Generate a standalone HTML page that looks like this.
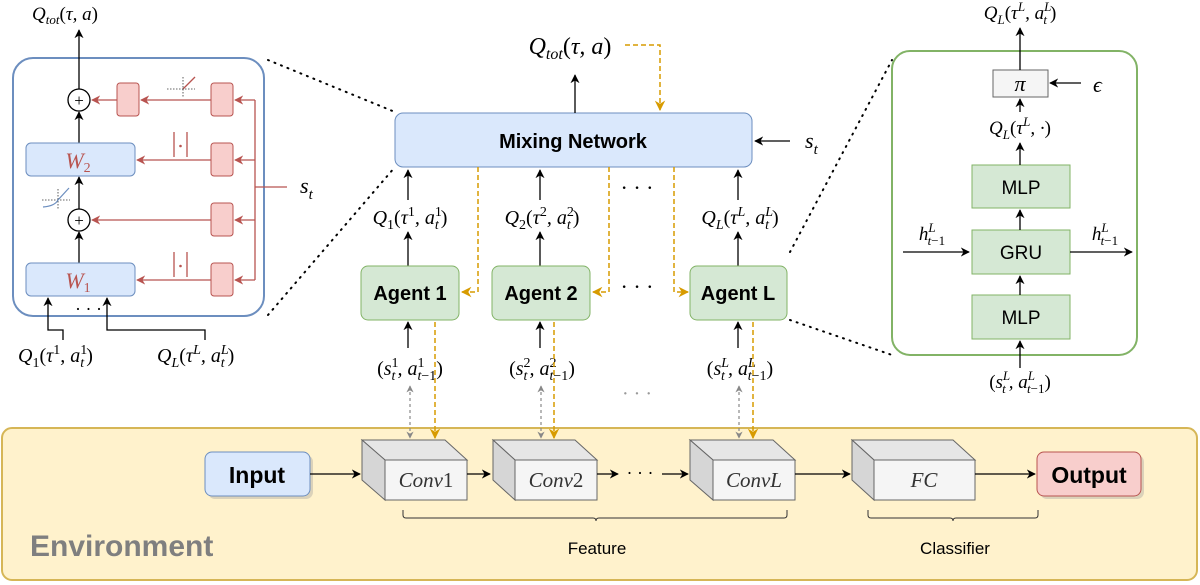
<!DOCTYPE html>
<html><head><meta charset="utf-8"><style>
html,body{margin:0;padding:0;background:#fff}
svg{display:block}
.m{font-family:"Liberation Serif",serif;font-style:italic}
.s{font-family:"Liberation Sans",sans-serif}
.u{font-style:normal}
</style></head><body>
<svg width="1200" height="585" viewBox="0 0 1200 585" xmlns="http://www.w3.org/2000/svg">
<defs>
<marker id="ab" viewBox="0 0 10 10" refX="9" refY="5" markerWidth="7" markerHeight="7" orient="auto-start-reverse"><path d="M0,0 L10,5 L0,10 L3,5z" fill="#000"/></marker>
<marker id="ar" viewBox="0 0 10 10" refX="9" refY="5" markerWidth="7" markerHeight="7" orient="auto-start-reverse"><path d="M0,0 L10,5 L0,10 L3,5z" fill="#b85450"/></marker>
<marker id="ao" viewBox="0 0 10 10" refX="9" refY="5" markerWidth="7" markerHeight="7" orient="auto-start-reverse"><path d="M0,0 L10,5 L0,10 L3,5z" fill="#d79b00"/></marker>
<marker id="ag" viewBox="0 0 10 10" refX="9" refY="5" markerWidth="6" markerHeight="6" orient="auto-start-reverse"><path d="M0,0 L10,5 L0,10 L3,5z" fill="#888"/></marker>
</defs>

<!-- Environment -->
<rect x="2" y="428" width="1195" height="152" rx="10" fill="#fff2cc" stroke="#d6b656" stroke-width="2"/>
<text x="30" y="556" class="s" font-size="30" font-weight="bold" fill="#7f7f7f">Environment</text>
<rect x="208" y="455" width="105" height="44" rx="7" fill="#999" opacity="0.35"/>
<rect x="205" y="452" width="105" height="44" rx="7" fill="#dae8fc" stroke="#6c8ebf"/>
<text x="257" y="483" class="s" font-size="23" font-weight="bold" text-anchor="middle">Input</text>
<rect x="1040" y="455" width="104" height="44" rx="7" fill="#999" opacity="0.35"/>
<rect x="1037" y="452" width="104" height="44" rx="7" fill="#f8cecc" stroke="#b85450"/>
<text x="1089" y="483" class="s" font-size="23" font-weight="bold" text-anchor="middle">Output</text>

<g stroke="#666" stroke-width="1">
<path d="M362,440 L445,440 L467,460 L385,460z" fill="#e6e6e6"/><path d="M362,440 L385,460 L385,500 L362,480z" fill="#d6d6d6"/><rect x="385" y="460" width="82" height="40" fill="#f5f5f5"/>
<path d="M493,440 L575,440 L597,460 L515,460z" fill="#e6e6e6"/><path d="M493,440 L515,460 L515,500 L493,480z" fill="#d6d6d6"/><rect x="515" y="460" width="82" height="40" fill="#f5f5f5"/>
<path d="M690,440 L773,440 L795,460 L713,460z" fill="#e6e6e6"/><path d="M690,440 L713,460 L713,500 L690,480z" fill="#d6d6d6"/><rect x="713" y="460" width="82" height="40" fill="#f5f5f5"/>
<path d="M852,440 L953,440 L975,460 L874,460z" fill="#e6e6e6"/><path d="M852,440 L874,460 L874,500 L852,480z" fill="#d6d6d6"/><rect x="874" y="460" width="101" height="40" fill="#f5f5f5"/>
</g>
<g class="m" font-size="21" text-anchor="middle" fill="#333">
<text x="426" y="487">Conv<tspan class="u">1</tspan></text><text x="556" y="487">Conv<tspan class="u">2</tspan></text><text x="754" y="487">ConvL</text><text x="924" y="487">FC</text>
</g>
<g stroke="#000" stroke-width="1.3" fill="none" marker-end="url(#ab)">
<path d="M310,474 H360"/><path d="M467,474 H490"/><path d="M597,474 H618"/><path d="M662,474 H688"/><path d="M795,474 H850"/><path d="M975,474 H1035"/>
</g>
<text x="640" y="479" font-size="18" text-anchor="middle">· · ·</text>
<path d="M403,510 v5 q0,3 3,3 h187 q3,0 3,3 q0,-3 3,-3 h185 q3,0 3,-3 v-5" fill="none" stroke="#333"/>
<path d="M868,510 v5 q0,3 3,3 h79 q3,0 3,3 q0,-3 3,-3 h79 q3,0 3,-3 v-5" fill="none" stroke="#333"/>
<text x="597" y="554" class="s" font-size="17" text-anchor="middle">Feature</text>
<text x="955" y="554" class="s" font-size="17" text-anchor="middle">Classifier</text>

<!-- Mixing network -->
<rect x="395" y="113" width="357" height="54" rx="8" fill="#dae8fc" stroke="#6c8ebf"/>
<text x="573" y="148" class="s" font-size="20" font-weight="bold" text-anchor="middle">Mixing Network</text>
<text x="570" y="54" class="m" font-size="24" text-anchor="middle">Q<tspan font-size="16" dy="5">tot</tspan><tspan class="u" dy="-5">(</tspan>τ, a<tspan class="u">)</tspan></text>
<g stroke="#000" stroke-width="1.3" marker-end="url(#ab)">
<path d="M575,113 V75"/><path d="M790,141 H755"/>
<path d="M408,200 V170"/><path d="M540,200 V170"/><path d="M738,200 V170"/>
<path d="M408,266 V232"/><path d="M540,266 V232"/><path d="M738,266 V232"/>
<path d="M408,348 V322"/><path d="M540,348 V322"/><path d="M738,348 V322"/>
</g>
<text x="805" y="148" class="m" font-size="22">s<tspan font-size="15" dy="6">t</tspan></text>
<g class="m" font-size="20" text-anchor="middle">
<text x="410" y="224">Q<tspan font-size="14" dy="5" class="u">1</tspan><tspan class="u" dy="-5">(</tspan>τ<tspan class="u" font-size="14" dy="-8">1</tspan><tspan dy="8">, a</tspan><tspan class="u" font-size="14" dy="-8">1</tspan><tspan font-size="14" dx="-7" dy="13">t</tspan><tspan class="u" dy="-5" dx="2">)</tspan></text>
<text x="542" y="224">Q<tspan font-size="14" dy="5" class="u">2</tspan><tspan class="u" dy="-5">(</tspan>τ<tspan class="u" font-size="14" dy="-8">2</tspan><tspan dy="8">, a</tspan><tspan class="u" font-size="14" dy="-8">2</tspan><tspan font-size="14" dx="-7" dy="13">t</tspan><tspan class="u" dy="-5" dx="2">)</tspan></text>
<text x="740" y="224">Q<tspan font-size="14" dy="5">L</tspan><tspan class="u" dy="-5">(</tspan>τ<tspan font-size="14" dy="-8">L</tspan><tspan dy="8">, a</tspan><tspan font-size="14" dy="-8">L</tspan><tspan font-size="14" dx="-8" dy="13">t</tspan><tspan class="u" dy="-5" dx="3">)</tspan></text>
<text x="410" y="375"><tspan class="u">(</tspan>s<tspan class="u" font-size="14" dy="-8">1</tspan><tspan font-size="14" dx="-7" dy="13">t</tspan><tspan dy="-5" dx="2">, a</tspan><tspan class="u" font-size="14" dy="-8">1</tspan><tspan font-size="14" dx="-7" dy="13">t<tspan class="u">−1</tspan></tspan><tspan class="u" dy="-5">)</tspan></text>
<text x="542" y="375"><tspan class="u">(</tspan>s<tspan class="u" font-size="14" dy="-8">2</tspan><tspan font-size="14" dx="-7" dy="13">t</tspan><tspan dy="-5" dx="2">, a</tspan><tspan class="u" font-size="14" dy="-8">2</tspan><tspan font-size="14" dx="-7" dy="13">t<tspan class="u">−1</tspan></tspan><tspan class="u" dy="-5">)</tspan></text>
<text x="740" y="375"><tspan class="u">(</tspan>s<tspan font-size="14" dy="-8">L</tspan><tspan font-size="14" dx="-8" dy="13">t</tspan><tspan dy="-5" dx="3">, a</tspan><tspan font-size="14" dy="-8">L</tspan><tspan font-size="14" dx="-8" dy="13">t<tspan class="u">−1</tspan></tspan><tspan class="u" dy="-5">)</tspan></text>
</g>
<text x="637" y="195" font-size="22" text-anchor="middle">· · ·</text>
<text x="637" y="294" font-size="22" text-anchor="middle">· · ·</text>
<text x="637" y="400" font-size="20" fill="#999" text-anchor="middle">· · ·</text>

<rect x="361" y="266" width="98" height="54" rx="7" fill="#d5e8d4" stroke="#82b366"/>
<rect x="492" y="266" width="98" height="54" rx="7" fill="#d5e8d4" stroke="#82b366"/>
<rect x="690" y="266" width="97" height="54" rx="7" fill="#d5e8d4" stroke="#82b366"/>
<g class="s" font-size="20" font-weight="bold" text-anchor="middle">
<text x="410" y="300">Agent 1</text><text x="541" y="300">Agent 2</text><text x="738" y="300">Agent L</text></g>

<g stroke="#d79b00" stroke-width="1.5" stroke-dasharray="5,3" fill="none" marker-end="url(#ao)">
<path d="M625,45 H660 V110"/>
<path d="M478,167 V292 H462"/><path d="M609,167 V292 H593"/><path d="M674,167 V292 H688"/>
<path d="M435,322 V438"/><path d="M554,322 V438"/><path d="M753,322 V438"/>
</g>
<g stroke="#888" stroke-width="1.2" stroke-dasharray="3,3" fill="none" marker-end="url(#ag)" marker-start="url(#ag)">
<path d="M410,386 V438"/><path d="M541,386 V438"/><path d="M739,386 V438"/>
</g>

<!-- dotted connectors -->
<g stroke="#000" stroke-width="2" stroke-dasharray="1,6" stroke-linecap="round">
<path d="M268,60 L395,112"/><path d="M268,315 L395,167"/>
<path d="M790,252 L892,60"/><path d="M790,320 L892,355"/>
</g>

<!-- Left panel -->
<rect x="13" y="58" width="251" height="258" rx="20" fill="#fff" stroke="#6c8ebf" stroke-width="2"/>
<text x="65" y="20" class="m" font-size="19" text-anchor="middle">Q<tspan font-size="13" dy="4">tot</tspan><tspan class="u" dy="-4">(</tspan>τ, a<tspan class="u">)</tspan></text>
<g stroke="#000" stroke-width="1.3" fill="none" marker-end="url(#ab)">
<path d="M79,89 V30"/><path d="M79,143 V112"/><path d="M79,209 V177"/><path d="M79,263 V232"/>
<path d="M63,340 V330 H48 V298"/><path d="M205,340 V330 H107 V298"/>
</g>
<text x="75" y="315" font-size="18">· · ·</text>
<circle cx="79" cy="100" r="11" fill="#fff" stroke="#000" stroke-width="1.3"/><text x="79" y="106" font-size="17" text-anchor="middle">+</text>
<circle cx="79" cy="220" r="11" fill="#fff" stroke="#000" stroke-width="1.3"/><text x="79" y="226" font-size="17" text-anchor="middle">+</text>
<rect x="26" y="143" width="109" height="33" rx="5" fill="#dae8fc" stroke="#6c8ebf"/>
<rect x="26" y="263" width="109" height="33" rx="5" fill="#dae8fc" stroke="#6c8ebf"/>
<text x="78" y="168" class="m" font-size="22" fill="#b85450" text-anchor="middle">W<tspan class="u" font-size="14" dy="4">2</tspan></text>
<text x="78" y="288" class="m" font-size="22" fill="#b85450" text-anchor="middle">W<tspan class="u" font-size="14" dy="4">1</tspan></text>
<g fill="#f8cecc" stroke="#b85450">
<rect x="117" y="83" width="22" height="33" rx="3"/>
<rect x="211" y="83" width="22" height="33" rx="3"/><rect x="211" y="143" width="22" height="33" rx="3"/>
<rect x="211" y="203" width="22" height="33" rx="3"/><rect x="211" y="263" width="22" height="33" rx="3"/>
</g>
<g stroke="#b85450" stroke-width="1.3" fill="none">
<path d="M255,100 V280 M255,187 H287"/>
<path d="M255,100 H235" marker-end="url(#ar)"/><path d="M255,160 H235" marker-end="url(#ar)"/>
<path d="M255,220 H235" marker-end="url(#ar)"/><path d="M255,280 H235" marker-end="url(#ar)"/>
<path d="M211,100 H141" marker-end="url(#ar)"/><path d="M117,100 H92" marker-end="url(#ar)"/>
<path d="M211,160 H137" marker-end="url(#ar)"/><path d="M211,220 H92" marker-end="url(#ar)"/>
<path d="M211,280 H137" marker-end="url(#ar)"/>
<path d="M174,132 V157 M187,132 V157 M174,252 V277 M187,252 V277"/>
<path d="M183,89 L195,77"/>
</g>
<circle cx="180.5" cy="146" r="1.3" fill="#b85450"/><circle cx="180.5" cy="266" r="1.3" fill="#b85450"/>
<path d="M167,89 H195 M183,77 V97" stroke="#333" stroke-width="0.8" stroke-dasharray="1.5,1.5"/>
<path d="M42,200 H70 M58,189 V209" stroke="#333" stroke-width="0.8" stroke-dasharray="1.5,1.5"/>
<path d="M43,207 Q55,206 58,200 L69,188" stroke="#6c8ebf" fill="none" stroke-width="1.2"/>
<text x="300" y="193" class="m" font-size="22">s<tspan font-size="15" dy="6">t</tspan></text>
<g class="m" font-size="20">
<text x="18" y="362">Q<tspan font-size="14" dy="5" class="u">1</tspan><tspan class="u" dy="-5">(</tspan>τ<tspan class="u" font-size="14" dy="-8">1</tspan><tspan dy="8">, a</tspan><tspan class="u" font-size="14" dy="-8">1</tspan><tspan font-size="14" dx="-7" dy="13">t</tspan><tspan class="u" dy="-5" dx="2">)</tspan></text>
<text x="157" y="362">Q<tspan font-size="14" dy="5">L</tspan><tspan class="u" dy="-5">(</tspan>τ<tspan font-size="14" dy="-8">L</tspan><tspan dy="8">, a</tspan><tspan font-size="14" dy="-8">L</tspan><tspan font-size="14" dx="-8" dy="13">t</tspan><tspan class="u" dy="-5" dx="3">)</tspan></text>
</g>

<!-- Right panel -->
<rect x="892" y="51" width="245" height="304" rx="18" fill="#fff" stroke="#82b366" stroke-width="2"/>
<rect x="993" y="70" width="55" height="27" fill="#f5f5f5" stroke="#666"/>
<text x="1020" y="91" class="m" font-size="22" text-anchor="middle">π</text>
<text x="1093" y="92" class="m" font-size="22">ϵ</text>
<rect x="972" y="165" width="98" height="43" fill="#d5e8d4" stroke="#82b366"/>
<rect x="972" y="230" width="98" height="44" fill="#d5e8d4" stroke="#82b366"/>
<rect x="972" y="295" width="98" height="44" fill="#d5e8d4" stroke="#82b366"/>
<g class="s" font-size="19" text-anchor="middle"><text x="1021" y="194">MLP</text><text x="1021" y="259">GRU</text><text x="1021" y="324">MLP</text></g>
<g stroke="#000" stroke-width="1.3" marker-end="url(#ab)">
<path d="M1020,70 V28"/><path d="M1081,83 H1050"/><path d="M1020,112 V99"/><path d="M1020,165 V143"/>
<path d="M1020,230 V210"/><path d="M1020,295 V276"/><path d="M1020,368 V341"/>
<path d="M903,252 H969"/><path d="M1070,252 H1132"/>
</g>
<g class="m" font-size="19" text-anchor="middle">
<text x="1020" y="19">Q<tspan font-size="13" dy="5">L</tspan><tspan class="u" dy="-5">(</tspan>τ<tspan font-size="13" dy="-8">L</tspan><tspan dy="8">, a</tspan><tspan font-size="13" dy="-8">L</tspan><tspan font-size="13" dx="-8" dy="13">t</tspan><tspan class="u" dy="-5" dx="3">)</tspan></text>
<text x="1020" y="134">Q<tspan font-size="13" dy="5">L</tspan><tspan class="u" dy="-5">(</tspan>τ<tspan font-size="13" dy="-8">L</tspan><tspan dy="8">, ·</tspan><tspan class="u">)</tspan></text>
<text x="1020" y="388"><tspan class="u">(</tspan>s<tspan font-size="13" dy="-8">L</tspan><tspan font-size="13" dx="-8" dy="13">t</tspan><tspan dy="-5" dx="3">, a</tspan><tspan font-size="13" dy="-8">L</tspan><tspan font-size="13" dx="-8" dy="13">t<tspan class="u">−1</tspan></tspan><tspan class="u" dy="-5">)</tspan></text>
<text x="932" y="240">h<tspan font-size="13" dy="-8">L</tspan><tspan font-size="13" dx="-8" dy="13">t<tspan class="u">−1</tspan></tspan></text>
<text x="1105" y="240">h<tspan font-size="13" dy="-8">L</tspan><tspan font-size="13" dx="-8" dy="13">t<tspan class="u">−1</tspan></tspan></text>
</g>
</svg>
</body></html>
